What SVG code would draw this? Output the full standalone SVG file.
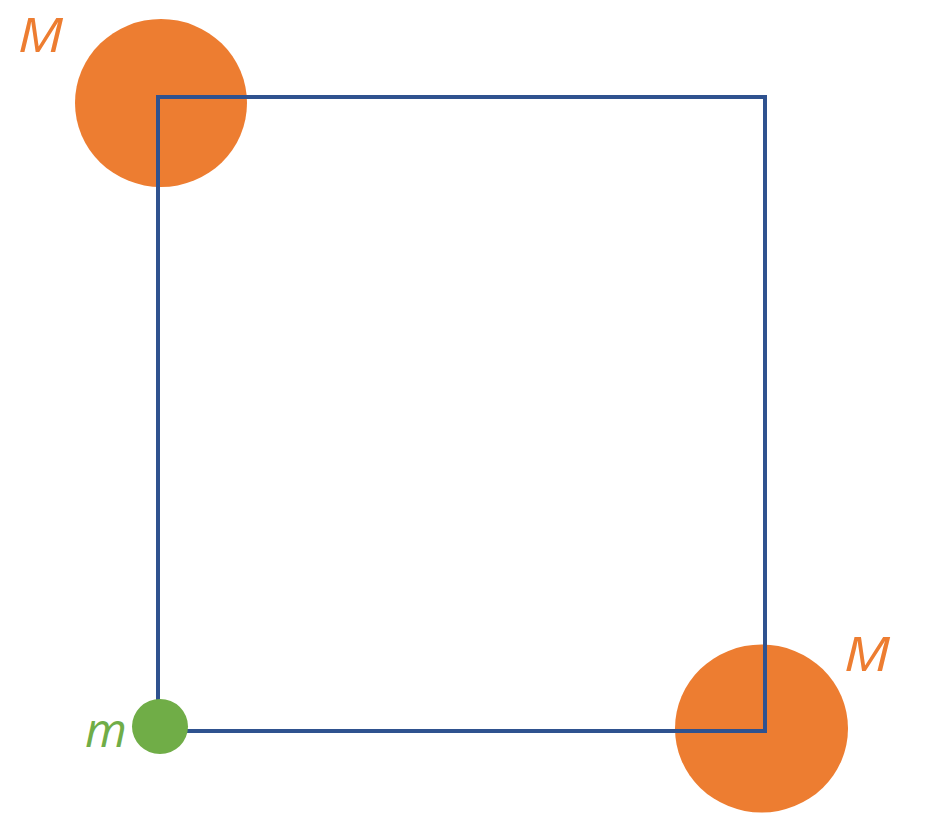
<svg xmlns="http://www.w3.org/2000/svg" width="927" height="833" viewBox="0 0 927 833">
<style>
.mass{fill:#ED7D31}
.small{fill:#70AD47}
.lbl{font-family:"Open Sans","Liberation Sans",sans-serif;font-style:italic;font-size:48px}
.edge{fill:none;stroke:#2F528F;stroke-width:4}
</style>
<rect width="927" height="833" fill="#fff"/>
<g id="M1"><ellipse class="mass" cx="161" cy="103" rx="86" ry="84"/></g>
<g id="M2"><ellipse class="mass" cx="761.5" cy="728.5" rx="86.5" ry="84"/></g>
<g id="connectors"><polyline class="edge" points="158,727 158,97 765,97 765,731 160,731"/></g>
<g id="m"><ellipse class="small" cx="160" cy="726.5" rx="28" ry="27.5"/></g>
<g id="labels">
<text class="lbl" x="18" y="52" fill="#ED7D31" textLength="45" lengthAdjust="spacingAndGlyphs">M</text>
<text class="lbl" x="844" y="671" fill="#ED7D31" textLength="46" lengthAdjust="spacingAndGlyphs">M</text>
<text class="lbl" x="85" y="747" fill="#70AD47">m</text>
</g>
</svg>
